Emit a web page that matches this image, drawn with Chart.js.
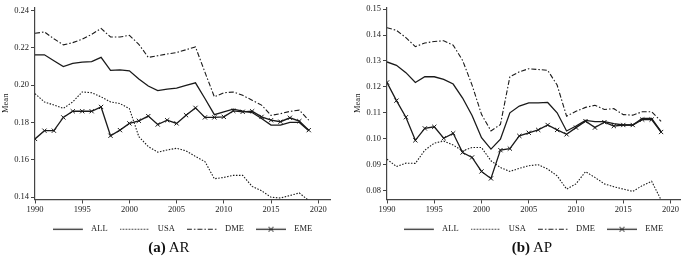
<!DOCTYPE html>
<html>
<head>
<meta charset="utf-8">
<script src="https://cdn.jsdelivr.net/npm/chart.js@4.4.1/dist/chart.umd.min.js"></script>
<style>
  html, body { margin: 0; padding: 0; background: #fff; }
  #wrap { position: relative; width: 685px; height: 265px; overflow: hidden; }
  canvas { position: absolute; top: 0; }
  #arChart { left: 0; }
  #apChart { left: 352px; }
  .caption {
    position: absolute; top: 239px; transform: translateX(-50%);
    font-family: 'Liberation Serif', serif; font-size: 15px; line-height: 17px;
    color: #111; white-space: nowrap;
  }
</style>
</head>
<body>
<div id="wrap">
  <canvas id="arChart" width="342" height="250"></canvas>
  <canvas id="apChart" width="333" height="250"></canvas>
  <div class="caption" style="left:169px"><b>(a)</b> AR</div>
  <div class="caption" style="left:532px"><b>(b)</b> AP</div>
</div>
<script>
const years = [1990, 1991, 1992, 1993, 1994, 1995, 1996, 1997, 1998, 1999,
               2000, 2001, 2002, 2003, 2004, 2005, 2006, 2007, 2008, 2009,
               2010, 2011, 2012, 2013, 2014, 2015, 2016, 2017, 2018, 2019];
const seriesNames = ['ALL', 'USA', 'DME', 'EME'];
const xTicks = [1990, 1995, 2000, 2005, 2010, 2015, 2020];
const arYTicks = [0.14, 0.16, 0.18, 0.20, 0.22, 0.24];
const apYTicks = [0.08, 0.09, 0.10, 0.11, 0.12, 0.13, 0.14, 0.15];

// (a) AR
const arAll = [0.2162, 0.2162, 0.2130, 0.2099, 0.2116, 0.2123, 0.2125, 0.2148, 0.2079, 0.2081,
               0.2076, 0.2033, 0.1995, 0.1970, 0.1978, 0.1984, 0.1998, 0.2012, 0.1928, 0.1842,
               0.1857, 0.1871, 0.1861, 0.1853, 0.1821, 0.1786, 0.1786, 0.1800, 0.1800, 0.1756];
const arUsa = [0.1954, 0.1910, 0.1893, 0.1875, 0.1910, 0.1963, 0.1959, 0.1937, 0.1910, 0.1901,
               0.1874, 0.1724, 0.1671, 0.1641, 0.1653, 0.1662, 0.1648, 0.1618, 0.1591, 0.1499,
               0.1506, 0.1517, 0.1517, 0.1458, 0.1435, 0.1400, 0.1396, 0.1409, 0.1423, 0.1382];
const arDme = [0.2277, 0.2284, 0.2248, 0.2215, 0.2227, 0.2245, 0.2271, 0.2303, 0.2257, 0.2257,
               0.2266, 0.2218, 0.2148, 0.2157, 0.2166, 0.2174, 0.2189, 0.2204, 0.2069, 0.1937,
               0.1959, 0.1963, 0.1945, 0.1919, 0.1893, 0.1838, 0.1847, 0.1859, 0.1866, 0.1812];
const arEme = [0.1712, 0.1756, 0.1756, 0.1827, 0.1860, 0.1860, 0.1860, 0.1883, 0.1729, 0.1759,
               0.1795, 0.1809, 0.1834, 0.1789, 0.1812, 0.1795, 0.1839, 0.1878, 0.1827, 0.1827,
               0.1830, 0.1862, 0.1857, 0.1860, 0.1830, 0.1812, 0.1804, 0.1825, 0.1807, 0.1759];

// (b) AP
const apAll = [0.1296, 0.1283, 0.1255, 0.1217, 0.1239, 0.1239, 0.1229, 0.1211, 0.1157, 0.1090,
               0.1004, 0.0960, 0.0998, 0.1100, 0.1126, 0.1138, 0.1138, 0.1140, 0.1100, 0.1030,
               0.1049, 0.1071, 0.1066, 0.1066, 0.1058, 0.1053, 0.1053, 0.1078, 0.1078, 0.1027];
const apUsa = [0.0921, 0.0893, 0.0906, 0.0905, 0.0956, 0.0983, 0.0991, 0.0976, 0.0953, 0.0966,
               0.0966, 0.0915, 0.0889, 0.0874, 0.0886, 0.0896, 0.0900, 0.0883, 0.0857, 0.0806,
               0.0826, 0.0873, 0.0851, 0.0826, 0.0815, 0.0806, 0.0797, 0.0819, 0.0836, 0.0764];
const apDme = [0.1428, 0.1418, 0.1390, 0.1355, 0.1369, 0.1375, 0.1378, 0.1361, 0.1302, 0.1207,
               0.1094, 0.1030, 0.1055, 0.1239, 0.1258, 0.1270, 0.1267, 0.1264, 0.1207, 0.1087,
               0.1106, 0.1121, 0.1129, 0.1113, 0.1116, 0.1093, 0.1091, 0.1104, 0.1104, 0.1067];
const apEme = [0.1217, 0.1147, 0.1083, 0.0994, 0.1040, 0.1046, 0.1002, 0.1021, 0.0947, 0.0928,
               0.0874, 0.0847, 0.0956, 0.0962, 0.1011, 0.1023, 0.1034, 0.1053, 0.1034, 0.1017,
               0.1043, 0.1068, 0.1043, 0.1064, 0.1049, 0.1053, 0.1053, 0.1074, 0.1074, 0.1026];

const ink = '#1a1a1a';
const axisInk = '#444';
const fontFamily = "'Liberation Serif', 'Times New Roman', serif";
const dashes = [[], [1.5, 1.5], [5, 2, 1.5, 2], []];

// little canvases used as legend samples (line + marker)
function legendSample(dash, marker) {
    const c = document.createElement('canvas');
    c.width = 34;
    c.height = 9;
    const g = c.getContext('2d');
    g.strokeStyle = ink;
    g.lineWidth = 1.2;
    g.setLineDash(dash);
    g.beginPath();
    g.moveTo(0, 4.5);
    g.lineTo(30, 4.5);
    g.stroke();
    if (marker) {
        g.setLineDash([]);
        g.lineWidth = 1;
        g.beginPath();
        g.moveTo(12.5, 2); g.lineTo(17.5, 7);
        g.moveTo(17.5, 2); g.lineTo(12.5, 7);
        g.stroke();
    }
    return c;
}
const samples = dashes.map((d, i) => legendSample(d, i === 3));

function makeChart(id, series, yTicks, yMin, yMax, xMax, padRight) {
    const datasets = series.map((values, i) => ({
        label: seriesNames[i],
        data: values,
        borderColor: ink,
        backgroundColor: ink,
        borderWidth: i === 0 || i === 3 ? 1.3 : 1.1,
        borderDash: dashes[i],
        tension: 0,
        pointRadius: i === 3 ? 3 : 0,
        pointStyle: 'crossRot',
        pointBorderWidth: 1,
        pointBorderColor: ink
    }));

    return new Chart(document.getElementById(id), {
        type: 'line',
        data: { labels: years, datasets: datasets },
        options: {
            responsive: false,
            animation: false,
            devicePixelRatio: 1,
            layout: { padding: { left: 0, right: padRight, top: 4, bottom: 6.5 } },
            plugins: {
                tooltip: { enabled: false },
                legend: {
                    position: 'bottom',
                    fullSize: false,
                    labels: {
                        usePointStyle: true,
                        pointStyleWidth: 34,
                        padding: 12,
                        color: ink,
                        font: { family: fontFamily, size: 8.5 },
                        generateLabels: chart =>
                            Chart.defaults.plugins.legend.labels.generateLabels(chart)
                                .map((item, i) => ({ ...item, pointStyle: samples[i] }))
                    }
                }
            },
            scales: {
                x: {
                    type: 'linear',
                    min: 1990,
                    max: xMax,
                    afterBuildTicks: scale => { scale.ticks = xTicks.map(v => ({ value: v })); },
                    afterFit: scale => { scale.height = 13.5; },
                    grid: { drawOnChartArea: false, tickLength: 4, color: axisInk, lineWidth: 1 },
                    border: { color: axisInk, width: 1.2 },
                    ticks: {
                        color: ink,
                        padding: 1,
                        maxRotation: 0,
                        font: { family: fontFamily, size: 8.5 },
                        callback: v => String(v)
                    }
                },
                y: {
                    min: yMin,
                    max: yMax,
                    afterBuildTicks: scale => { scale.ticks = yTicks.map(v => ({ value: v })); },
                    afterFit: scale => { scale.width = 35; },
                    grid: { drawOnChartArea: false, tickLength: 4, color: axisInk, lineWidth: 1 },
                    border: { color: axisInk, width: 1.2 },
                    title: {
                        display: true,
                        text: 'Mean',
                        color: ink,
                        padding: { top: 1, bottom: 0 },
                        font: { family: fontFamily, size: 8.5 }
                    },
                    ticks: {
                        color: ink,
                        padding: 2,
                        font: { family: fontFamily, size: 8.5 },
                        callback: v => v.toFixed(2)
                    }
                }
            }
        }
    });
}

makeChart('arChart', [arAll, arUsa, arDme, arEme], arYTicks, 0.1388, 0.2417, 2021.25, 12);
makeChart('apChart', [apAll, apUsa, apDme, apEme], apYTicks, 0.07658, 0.15076, 2021.0, 5);
</script>
</body>
</html>
